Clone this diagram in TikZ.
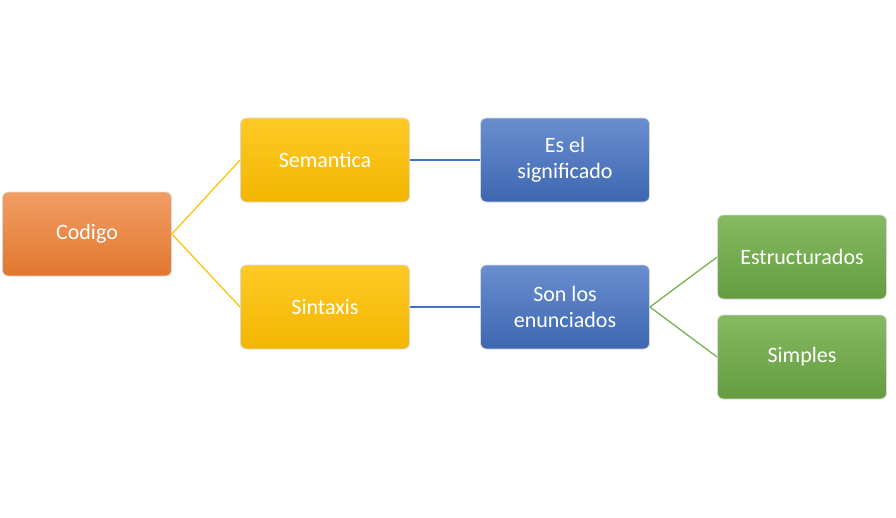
\documentclass[tikz,border=0pt]{standalone}
\usepackage{fontspec}
\setmainfont{Carlito}
\begin{document}
\begin{tikzpicture}[x=1pt,y=-1pt,
  box/.style={minimum width=169pt,minimum height=84pt,rounded corners=6pt,text=white,font=\fontsize{22}{26}\selectfont,align=center,draw=white!85!black,line width=0.8pt,inner sep=2pt},
  orangebox/.style={box,top color=orange!60!red!70!white,bottom color=orange!85!red},
  yellowbox/.style={box,top color=yellow!80!orange,bottom color=yellow!60!orange!95!black},
  bluebox/.style={box,top color=blue!45!cyan!60!black!90!white,bottom color=blue!55!cyan!60!black},
  greenbox/.style={box,top color=green!50!black!70!white,bottom color=green!45!black!80!white},
  conn/.style={line width=1.2pt}]
\useasboundingbox (0,0) rectangle (896,517);
\definecolor{cor}{HTML}{ED7D31}\definecolor{cye}{HTML}{FFC000}\definecolor{cbl}{HTML}{4472C4}\definecolor{cgr}{HTML}{70AD47}
\tikzset{orangebox/.style={box,top color=cor!75!white,bottom color=cor!95!black},
 yellowbox/.style={box,top color=cye!85!white,bottom color=cye!95!black},
 bluebox/.style={box,top color=cbl!80!white,bottom color=cbl!90!black},
 greenbox/.style={box,top color=cgr!85!white,bottom color=cgr!90!black}}
\node[orangebox] (cod) at (87,234) {Codigo};
\node[yellowbox] (sem) at (325,160) {Semantica};
\node[yellowbox] (sin) at (325,307) {Sintaxis};
\node[bluebox] (sig) at (565,160) {Es el\\significado};
\node[bluebox] (enu) at (565,307) {Son los\\enunciados};
\node[greenbox] (est) at (802,257) {Estructurados};
\node[greenbox] (sim) at (802,357) {Simples};
\draw[conn,cye] (cod.east) -- (sem.west);
\draw[conn,cye] (cod.east) -- (sin.west);
\draw[conn,cbl] (sem.east) -- (sig.west);
\draw[conn,cbl] (sin.east) -- (enu.west);
\draw[conn,cgr] (enu.east) -- (est.west);
\draw[conn,cgr] (enu.east) -- (sim.west);
\end{tikzpicture}
\end{document}
